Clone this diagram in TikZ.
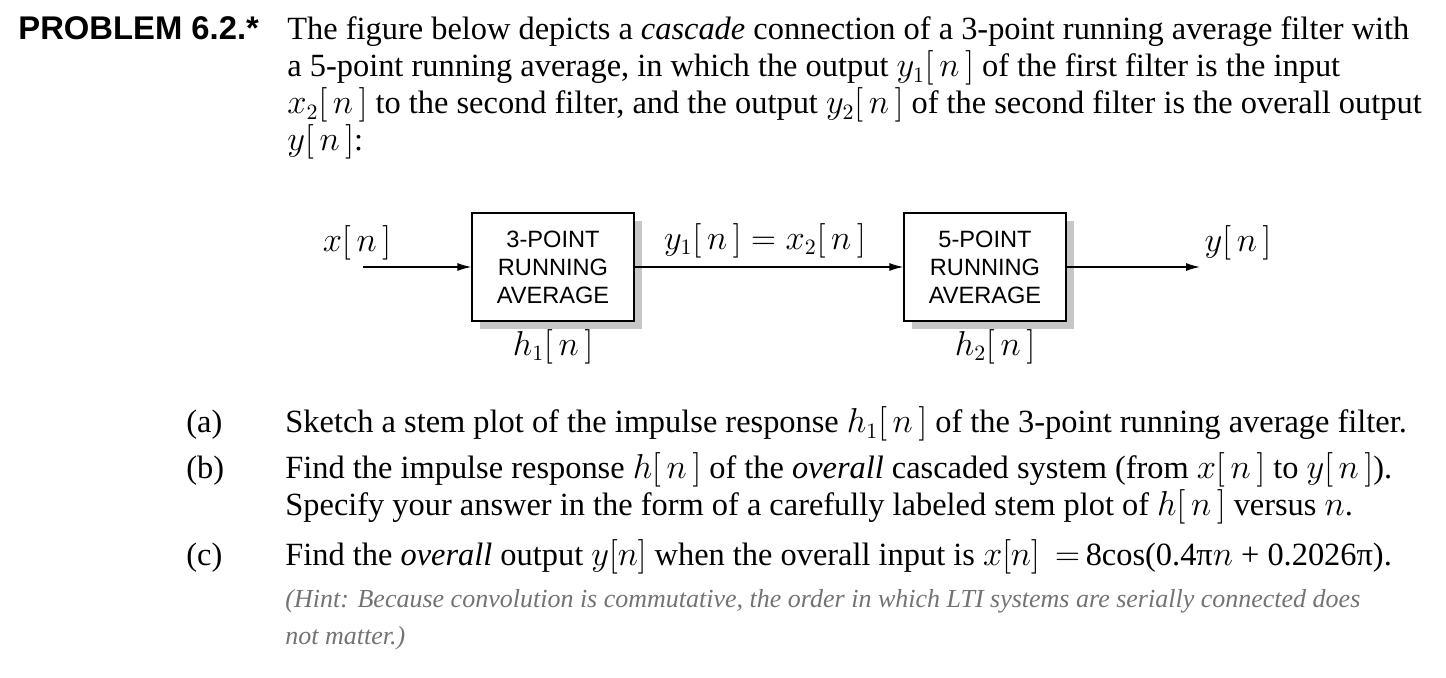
\documentclass[tikz,border=0pt]{standalone}
\usepackage{fontspec}
\setmainfont{Liberation Serif}
\newfontfamily\hsans{Liberation Sans}
\usetikzlibrary{arrows.meta}
\begin{document}
\begin{tikzpicture}[x=0.5pt,y=-0.5pt,
  txt/.style={anchor=base west,inner sep=0pt,font=\fontsize{16.2}{20}\selectfont},
  hint/.style={anchor=base west,inner sep=0pt,text=black!55,font=\fontsize{13}{16}\selectfont\itshape},
  blk/.style={draw,line width=0.65pt,fill=white,minimum width=81pt,minimum height=54pt,align=center,inner sep=0pt,font=\hsans\fontsize{11.8}{14}\selectfont},
  shd/.style={fill=black!22,minimum width=81pt,minimum height=54pt,inner sep=0pt},
  lbl/.style={inner sep=0pt,font=\fontsize{16.2}{20}\selectfont},
  arr/.style={-{Latex[length=7pt,width=4pt]},line width=0.65pt}]
\useasboundingbox (0,0) rectangle (1446,678);
\node[anchor=base west,inner sep=0pt,font=\hsans\bfseries\fontsize{16.4}{20}\selectfont] (title) at (18,40) {PROBLEM 6.2.*};
\node[txt] (l1) at (287,40) {The figure below depicts a \emph{cascade} connection of a 3-point running average filter with};
\node[txt] (l2) at (287,77) {a 5-point running average, in which the output $y_1[\,n\,]$ of the first filter is the input};
\node[txt] (l3) at (287,114) {$x_2[\,n\,]$ to the second filter, and the output $y_2[\,n\,]$ of the second filter is the overall output};
\node[txt] (l4) at (287,151) {$y[\,n\,]$:};
% diagram
\node[shd] (s1) at (561,275) {};
\node[shd] (s2) at (993,275) {};
\node[blk] (b1) at (553,267) {3-POINT\\RUNNING\\AVERAGE};
\node[blk] (b2) at (985,267) {5-POINT\\RUNNING\\AVERAGE};
\coordinate (in) at (363,267);
\coordinate (out) at (1200,267);
\draw[arr] (in) -- (b1.west);
\draw[arr] (b1.east) -- (b2.west);
\draw[arr] (b2.east) -- (out);
\node[lbl] (xn) at (357,243) {$x[\,n\,]$};
\node[lbl] (mid) at (765,241) {$y_1[\,n\,] = x_2[\,n\,]$};
\node[lbl] (yn) at (1238,243) {$y[\,n\,]$};
\node[lbl] (h1) at (553,347) {$h_1[\,n\,]$};
\node[lbl] (h2) at (995,347) {$h_2[\,n\,]$};
% items
\node[txt] (a) at (186,433) {(a)};
\node[txt] (at) at (285,433) {Sketch a stem plot of the impulse response $h_1[\,n\,]$ of the 3-point running average filter.};
\node[txt] (b) at (186,479) {(b)};
\node[txt] (bt) at (285,479) {Find the impulse response $h[\,n\,]$ of the \emph{overall} cascaded system (from $x[\,n\,]$ to $y[\,n\,]$).};
\node[txt] (bt2) at (285,516) {Specify your answer in the form of a carefully labeled stem plot of $h[\,n\,]$ versus $n$.};
\node[txt] (c) at (186,566) {(c)};
\node[txt] (ct) at (285,566) {Find the \emph{overall} output $y[n]$ when the overall input is $x[n]\,=\,$8cos(0.4π$n$ + 0.2026π).};
\node[hint] (h) at (285,607) {(Hint: Because convolution is commutative, the order in which LTI systems are serially connected does};
\node[hint] (hh) at (285,644) {not matter.)};
\end{tikzpicture}
\end{document}
